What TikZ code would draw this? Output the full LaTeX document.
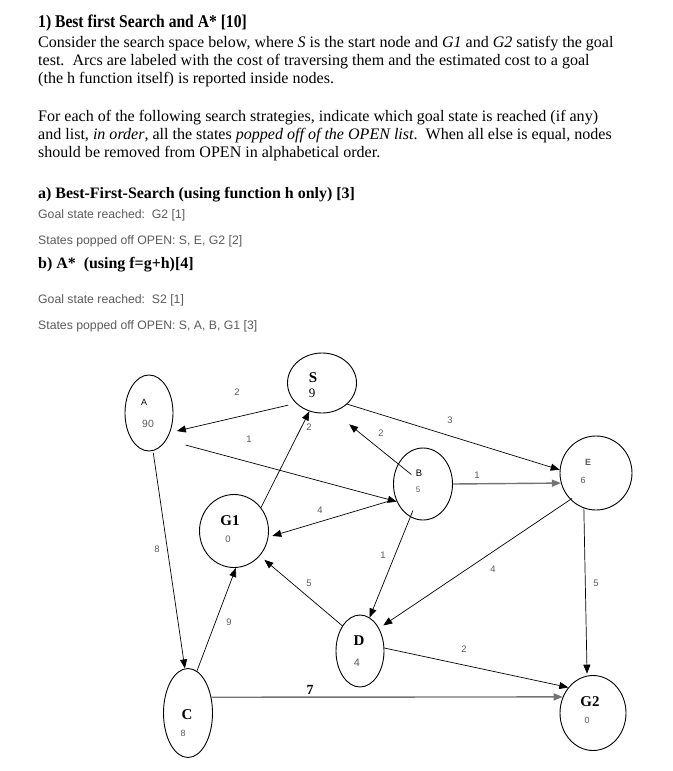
\documentclass[tikz,border=0pt]{standalone}
\usepackage{fontspec}
\setmainfont{Liberation Serif}
\setsansfont{Liberation Sans}
\newfontfamily\headfont[FakeStretch=0.87]{Liberation Serif}
\usetikzlibrary{arrows.meta,calc,shapes.geometric}
\definecolor{note}{RGB}{90,90,90}
\definecolor{wire}{RGB}{115,115,115}
\tikzset{
  state/.style={ellipse, draw, line width=0.9bp, inner sep=0pt},
  nm/.style={inner sep=0pt, font=\fontsize{15}{15}\selectfont\bfseries},
  hv/.style={inner sep=0pt, font=\sffamily\fontsize{9.5}{9.5}\selectfont, text=note},
  hs/.style={inner sep=0pt, font=\sffamily\fontsize{9.5}{9.5}\selectfont},
  arc/.style={-{Triangle[length=9bp,width=7bp]}, line width=0.7bp},
  heavy/.style={arc, draw=wire, line width=1.4bp},
  cost/.style={inner sep=0pt, font=\sffamily\fontsize{9.5}{9.5}\selectfont, text=note},
  txt/.style={anchor=base west, inner sep=0pt, font=\fontsize{16.1}{18}\selectfont},
  hd/.style={txt, font=\headfont\fontsize{18}{20}\selectfont\bfseries},
  sub/.style={txt, font=\fontsize{16}{18}\selectfont\bfseries},
  ans/.style={anchor=base west, inner sep=0pt, font=\sffamily\fontsize{12.3}{14}\selectfont, text=note},
}

\begin{document}
\begin{tikzpicture}[x=1bp, y=-1bp]
  \useasboundingbox (0,0) rectangle (673,771);
  % question text
  \node[hd] (q0) at (38,28) {1) Best first Search and A* [10]};
  \node[txt] (q1) at (38,48) {Consider the search space below, where \textit{S} is the start node and \textit{G1} and \textit{G2} satisfy the goal};
  \node[txt] (q2) at (38,66) {test.\ \ Arcs are labeled with the cost of traversing them and the estimated cost to a goal};
  \node[txt] (q3) at (38,83) {(the h function itself) is reported inside nodes.};
  \node[txt] (q4) at (38,121) {For each of the following search strategies, indicate which goal state is reached (if any)};
  \node[txt] (q5) at (38,139) {and list, \textit{in order}, all the states \textit{popped off of the OPEN list}.\ \ When all else is equal, nodes};
  \node[txt] (q6) at (38,157) {should be removed from OPEN in alphabetical order.};
  \node[sub] (pa) at (38,198) {a) Best-First-Search (using function h only) [3]};
  \node[ans] (pa1) at (38,218) {Goal state reached:\ \ G2 [1]};
  \node[ans] (pa2) at (38,244) {States popped off OPEN: S, E, G2 [2]};
  \node[sub] (pb) at (38,268) {b) A*\ \ (using f=g+h)[4]};
  \node[ans] (pb1) at (38,303) {Goal state reached:\ \ S2 [1]};
  \node[ans] (pb2) at (38,329) {States popped off OPEN: S, A, B, G1 [3]};

  % states
  \node[state, minimum width=69bp, minimum height=60bp] (S) at (322,383) {};
  \node[state, minimum width=48bp, minimum height=76bp] (A) at (149,413) {};
  \node[state, minimum width=59bp, minimum height=72bp] (B) at (423,484) {};
  \node[state, minimum width=72bp, minimum height=74bp] (E) at (596,473) {};
  \node[state, minimum width=69bp, minimum height=73bp] (G1) at (234,531) {};
  \node[state, minimum width=48bp, minimum height=72bp] (D) at (360,651) {};
  \node[state, minimum width=49bp, minimum height=89bp] (C) at (188,713) {};
  \node[state, minimum width=66bp, minimum height=75bp] (G2) at (593,713) {};

  % names and h values
  \node[nm] (S-n) at (313,378) {S};
  \node[inner sep=0pt, font=\fontsize{13}{13}\selectfont] (S-h) at (312,393) {9};
  \node[hs, font=\sffamily\fontsize{9}{9}\selectfont] (A-n) at (144,402) {A};
  \node[hv, font=\sffamily\fontsize{10.5}{10.5}\selectfont] (A-h) at (148,424) {90};
  \node[hs] (B-n) at (419,473) {B};
  \node[hv, font=\sffamily\fontsize{8}{8}\selectfont] (B-h) at (418,490) {5};
  \node[hs, font=\sffamily\bfseries\fontsize{9}{9}\selectfont, text=note] (E-n) at (588,462) {E};
  \node[hv, font=\sffamily\fontsize{9}{9}\selectfont] (E-h) at (583,480) {6};
  \node[nm] (G1-n) at (230,521) {G1};
  \node[hv] (G1-h) at (228,539) {0};
  \node[nm] (D-n) at (359,641) {D};
  \node[hv, font=\sffamily\fontsize{11}{11}\selectfont] (D-h) at (357,663) {4};
  \node[nm] (C-n) at (187,715) {C};
  \node[hv, font=\sffamily\fontsize{9}{9}\selectfont] (C-h) at (183,733) {8};
  \node[nm] (G2-n) at (590,702) {G2};
  \node[hv, font=\sffamily\fontsize{9}{9}\selectfont] (G2-h) at (587,720) {0};

  % arcs
  \draw[arc, shorten <=8bp, shorten >=7bp] (S.218) -- (A.317);
  \draw[arc, shorten <=20bp] (A.303) -- (B.214);
  \draw[arc] (G1.41) -- (S.246);
  \draw[arc, shorten <=-17bp, shorten >=20bp] (B.141) -- (S.292);
  \draw[arc] (S.320) -- (E.175);
  \draw[heavy] (B.0) -- (E.196);
  \draw[arc, shorten <=2bp, shorten >=4bp] (B.209) -- (G1.350);
  \draw[arc, shorten <=-7bp] (B.249) -- (D.74);
  \draw[arc, shorten <=-2bp, shorten >=5bp] (E.226) -- (D.50);
  \draw[arc, shorten >=2bp] (E.251) -- (G2.99);
  \draw[arc, shorten >=6bp] (D.125) -- (G1.316);
  \draw[arc] (C.78) -- (G1.273);
  \draw[arc, shorten <=2bp] (A.276) -- (C.94);
  \draw[heavy] (C.34) -- (G2.152);
  \draw[arc] (D.7) -- (G2.134);

  % costs
  \node[cost] (c-SA) at (237,392) {2};
  \node[cost] (c-AB) at (249,439) {1};
  \node[cost] (c-G1S) at (309,427) {2};
  \node[cost] (c-BS) at (381,433) {2};
  \node[cost] (c-SE) at (450,420) {3};
  \node[cost] (c-BE) at (477,475) {1};
  \node[cost] (c-BG1) at (320,510) {4};
  \node[cost] (c-BD) at (383,555) {1};
  \node[cost] (c-ED) at (493,569) {4};
  \node[cost] (c-EG2) at (596,583) {5};
  \node[cost] (c-DG1) at (309,583) {5};
  \node[cost] (c-CG1) at (229,622) {9};
  \node[cost] (c-AC) at (157,549) {8};
  \node[cost] (c-DG2) at (464,649) {2};
  \node[inner sep=0pt, font=\fontsize{14}{14}\selectfont\bfseries] (c-CG2) at (310,690) {7};
\end{tikzpicture}
\end{document}
